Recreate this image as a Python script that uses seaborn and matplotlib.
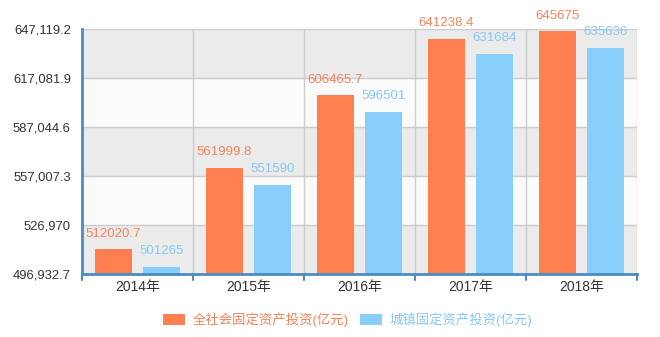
import matplotlib
matplotlib.use("Agg")
import matplotlib.pyplot as plt
import seaborn as sns
import pandas as pd
from matplotlib.patches import FancyBboxPatch

years = ["2014年", "2015年", "2016年", "2017年", "2018年"]
total_invest = [512020.7, 561999.8, 606465.7, 641238.4, 645675]
urban_invest = [501265, 551590, 596501, 631684, 635636]
total_labels = ["512020.7", "561999.8", "606465.7", "641238.4", "645675"]
urban_labels = ["501265", "551590", "596501", "631684", "635636"]
series_names = ["全社会固定资产投资(亿元)", "城镇固定资产投资(亿元)"]
y_ticks = [496932.7, 526970.0, 557007.3, 587044.6, 617081.9, 647119.2]
y_tick_labels = ["496,932.7", "526,970", "557,007.3", "587,044.6", "617,081.9", "647,119.2"]

colors = ["#ff7f50", "#87cefa"]
text_colors = ["#f4845a", "#84c8f4"]

df = pd.DataFrame({
    "year": years * 2,
    "value": total_invest + urban_invest,
    "series": [series_names[0]] * len(years) + [series_names[1]] * len(years),
})

sns.set_theme(style="white")
plt.rcParams["font.family"] = ["Liberation Sans", "Noto Sans CJK SC", "DejaVu Sans"]

fig = plt.figure(figsize=(6.6, 3.37), dpi=100)
ax = fig.add_axes([82 / 660, 1 - 274 / 337, (637 - 82) / 660, (274 - 29) / 337])

# alternating background bands
for i in range(len(y_ticks) - 1):
    ax.axhspan(y_ticks[i], y_ticks[i + 1], color="#ebebeb" if i % 2 == 0 else "#fbfbfb",
               zorder=0, lw=0)
for yt in y_ticks[1:]:
    ax.axhline(yt, color="#cccccc", lw=1, zorder=0.5)
for xb in [0.5, 1.5, 2.5, 3.5, 4.5]:
    ax.axvline(xb, color="#cccccc", lw=1, zorder=0.5)

sns.barplot(data=df, x="year", y="value", hue="series", palette=colors,
            width=0.87, gap=0.23, ax=ax, legend=False, zorder=2, saturation=1,
            linewidth=0)

ax.set_ylim(y_ticks[0], y_ticks[-1])
ax.set_xlim(-0.5, 4.5)
ax.set_yticks(y_ticks)
ax.set_yticklabels(y_tick_labels)
ax.set_xticks(range(len(years)))
ax.set_xticklabels(years)
ax.set_xlabel("")
ax.set_ylabel("")

# labels above bars
for ci, cont in enumerate(ax.containers):
    labels = total_labels if ci == 0 else urban_labels
    for bar, lab in zip(cont, labels):
        ax.annotate(lab, (bar.get_x() + bar.get_width() / 2, bar.get_height()),
                    xytext=(0, 7), textcoords="offset points", ha="center", va="bottom",
                    fontsize=9.5, color=text_colors[ci], zorder=5, annotation_clip=False)

for s in ["top", "right"]:
    ax.spines[s].set_visible(False)
ax.spines["left"].set_color("#4a8cc4")
ax.spines["left"].set_linewidth(2)
ax.spines["bottom"].set_color("#4a8cc4")
ax.spines["bottom"].set_linewidth(2)

ax.tick_params(axis="y", length=0, labelsize=9.4, labelcolor="#333333", pad=8)
ax.tick_params(axis="x", length=0, labelsize=10, labelcolor="#333333", pad=4)
# boundary tick marks on x axis
for xb in [-0.5, 0.5, 1.5, 2.5, 3.5, 4.5]:
    ax.plot([xb, xb], [0, -0.025], transform=ax.get_xaxis_transform(),
            color="#4a8cc4", lw=1.5, clip_on=False)

# legend
handles = [FancyBboxPatch((0, 0), 1, 1, boxstyle="round,pad=0.1", fc=c, ec="none") for c in colors]
leg = fig.legend(handles, series_names, loc="center", bbox_to_anchor=(0.527, 0.05), ncol=2,
                 frameon=False, fontsize=9.6, handlelength=1.6, handleheight=0.9,
                 columnspacing=0.85, handletextpad=0.6)
for t, c in zip(leg.get_texts(), text_colors):
    t.set_color(c)

fig.savefig("out.png", dpi=100)
